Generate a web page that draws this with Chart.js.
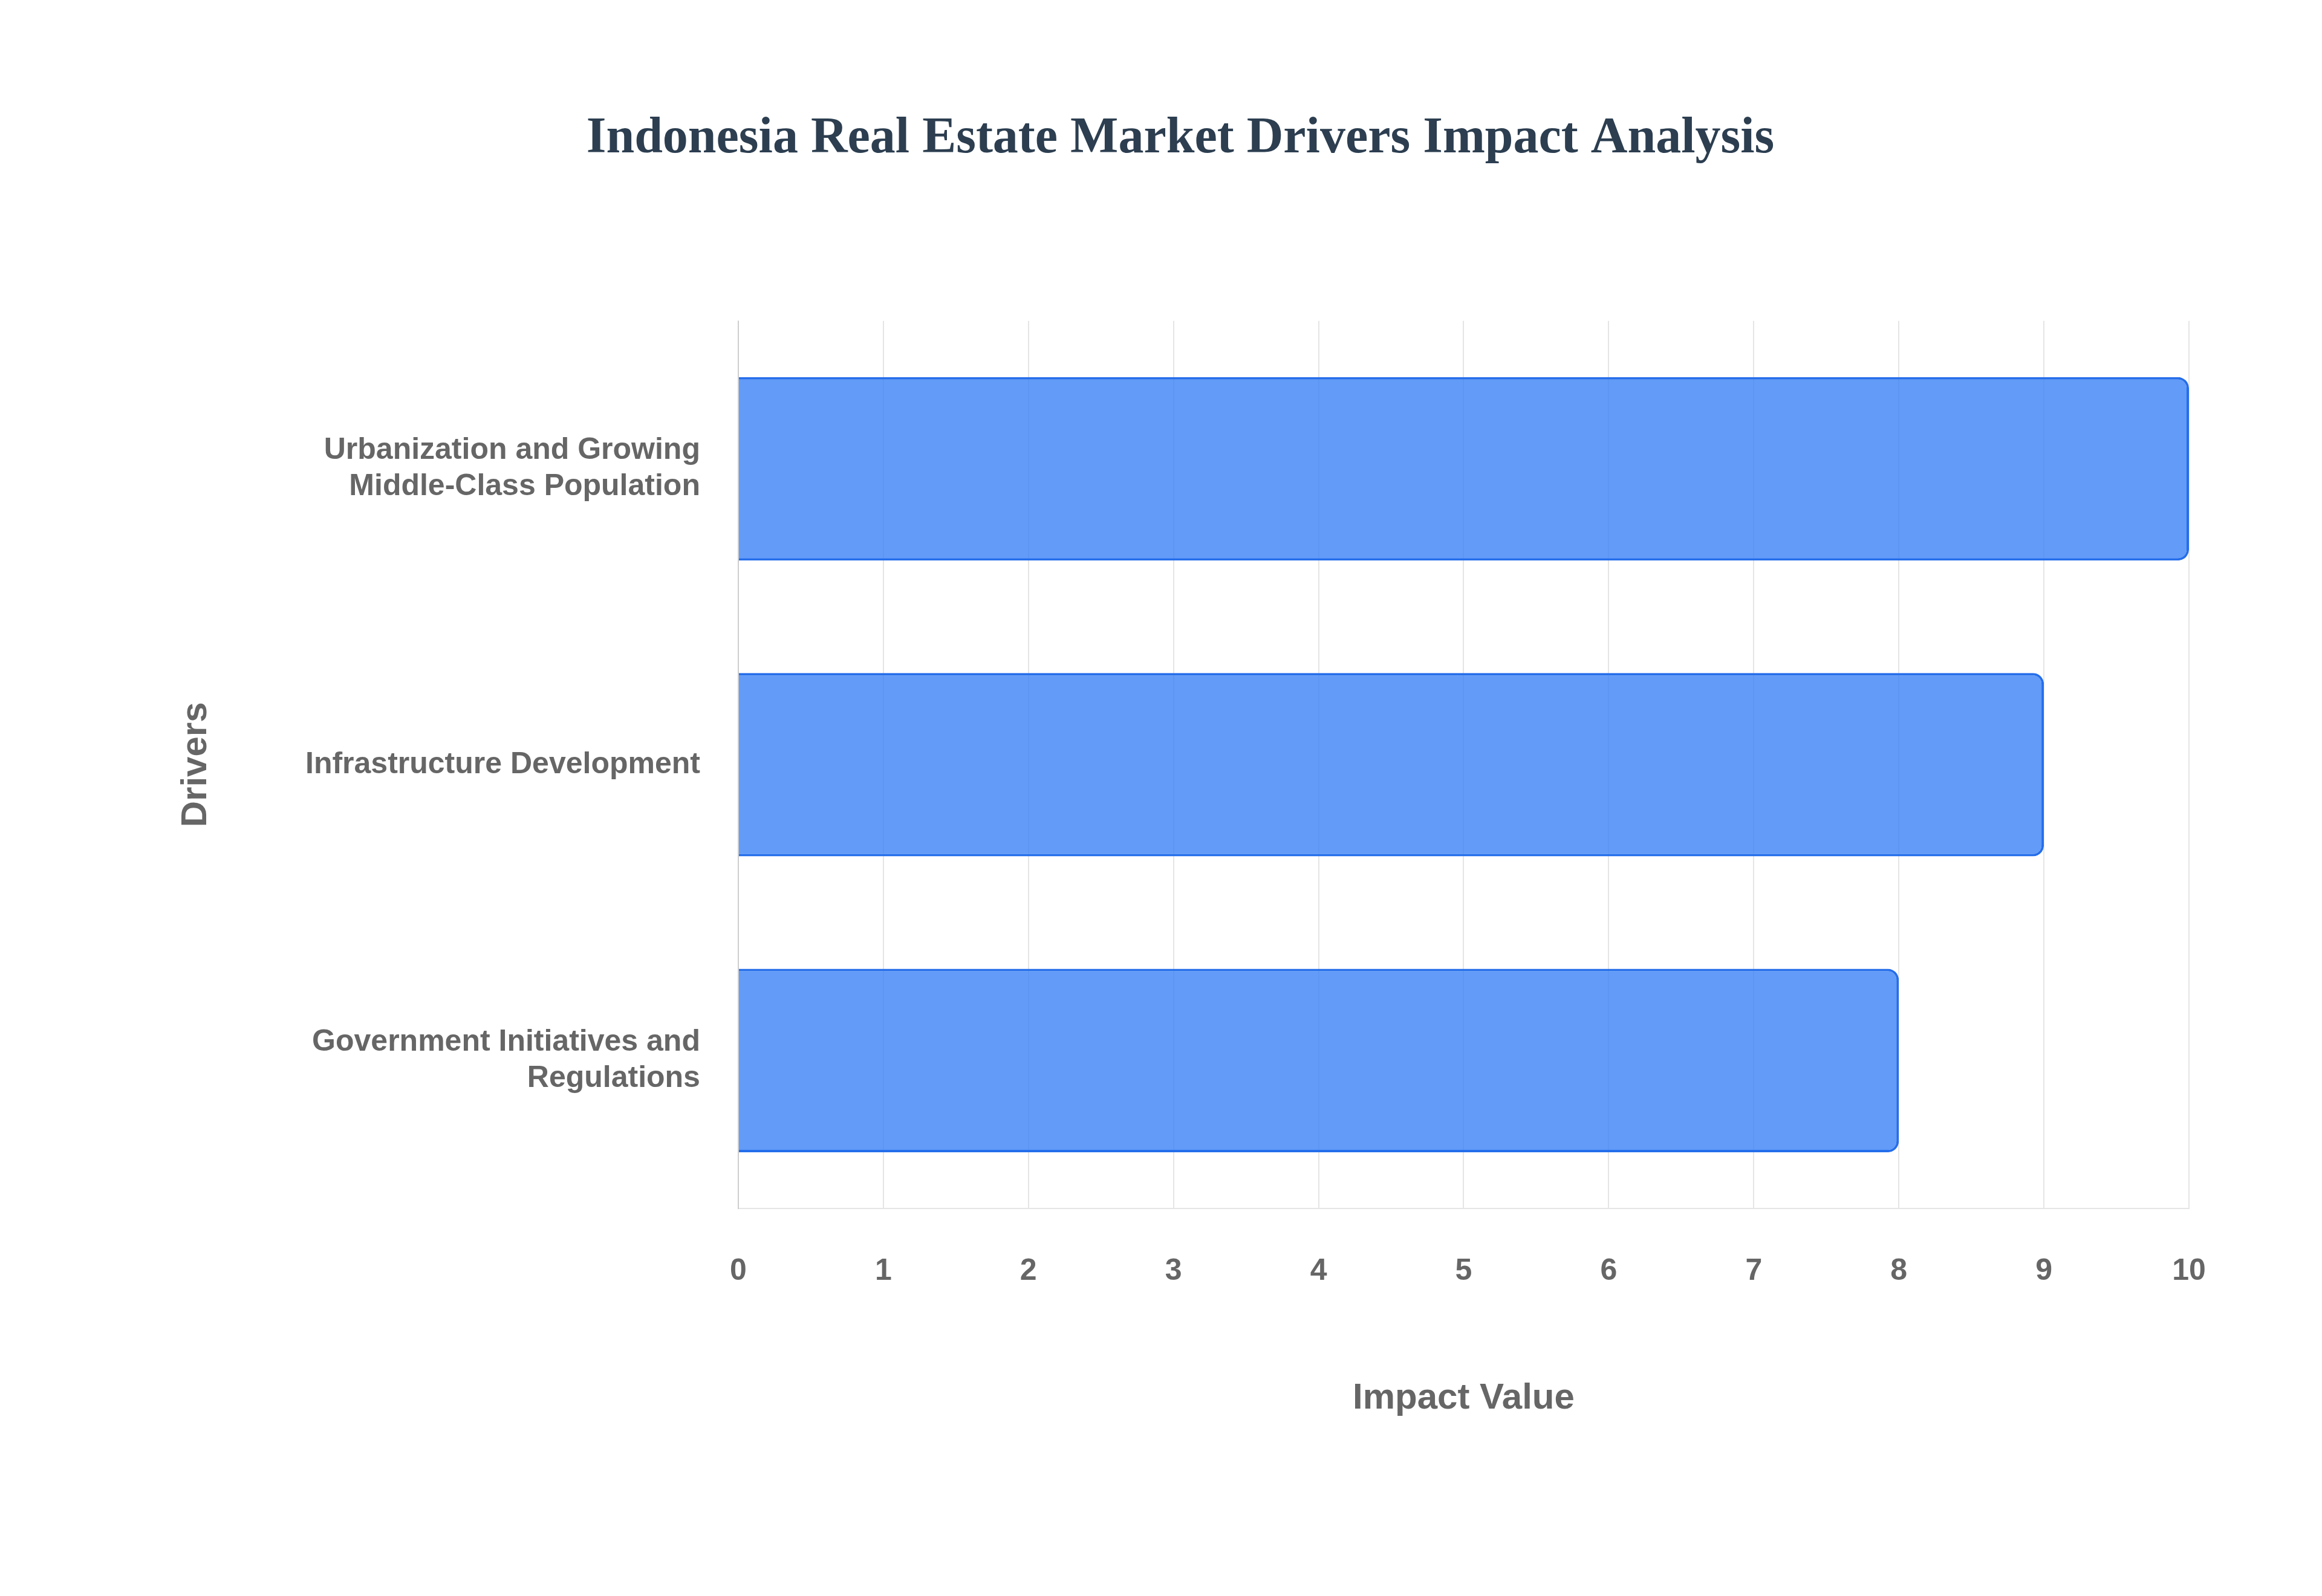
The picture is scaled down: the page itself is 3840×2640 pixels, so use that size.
<!DOCTYPE html>
<html>
<head>
<meta charset="utf-8">
<script src="https://cdn.jsdelivr.net/npm/chart.js@4"></script>
<style>
  html, body { margin: 0; padding: 0; background: #fff; }
  #wrap { width: 3840px; height: 2640px; }
</style>
</head>
<body>
<div id="wrap"><canvas id="barChart"></canvas></div>
<script>
// Datos del gráfico
const drivers = [
  ['Urbanization and Growing', 'Middle-Class Population'],
  'Infrastructure Development',
  ['Government Initiatives and', 'Regulations']
];
const impactValues = [10, 9, 8];
const xTicks = [0, 1, 2, 3, 4, 5, 6, 7, 8, 9, 10];

const labelFont = "'Liberation Sans', Arial, sans-serif";

const ctx = document.getElementById('barChart').getContext('2d');
const barChart = new Chart(ctx, {
  type: 'bar',
  data: {
    labels: drivers,
    datasets: [{
      label: 'Impact Value',
      data: impactValues,
      backgroundColor: 'rgba(59, 130, 246, 0.8)',
      borderColor: 'rgba(37, 110, 235, 1)',
      borderWidth: 4,
      borderRadius: 18,
      borderSkipped: 'start',
      barPercentage: 0.62,
      categoryPercentage: 1
    }]
  },
  options: {
    indexAxis: 'y',
    responsive: true,
    maintainAspectRatio: false,
    devicePixelRatio: 1,
    animation: false,
    layout: { padding: { left: 284, right: 220, top: 60, bottom: 287 } },
    plugins: {
      legend: { display: false },
      tooltip: { enabled: false },
      title: {
        display: true,
        text: 'Indonesia Real Estate Market Drivers Impact Analysis',
        color: '#2c3e50',
        font: { family: "'Liberation Serif', 'Times New Roman', serif", size: 84, weight: 'bold' },
        padding: { top: 120, bottom: 250 }
      }
    },
    scales: {
      x: {
        min: 0,
        max: 10,
        afterBuildTicks: axis => { axis.ticks = xTicks.map(v => ({ value: v })); },
        grid: { color: 'rgba(0,0,0,0.1)', lineWidth: 2, drawTicks: false },
        border: { color: 'rgba(0,0,0,0.1)', width: 2 },
        ticks: {
          color: '#666',
          padding: 74,
          font: { family: labelFont, size: 50, weight: 'bold' }
        },
        title: {
          display: true,
          text: 'Impact Value',
          color: '#666',
          padding: { top: 70 },
          font: { family: labelFont, size: 60, weight: 'bold' }
        }
      },
      y: {
        grid: { display: false },
        border: { color: 'rgba(0,0,0,0.1)', width: 2 },
        ticks: {
          color: '#666',
          padding: 55,
          font: { family: labelFont, size: 50, weight: 'bold' }
        },
        title: {
          display: true,
          text: 'Drivers',
          color: '#666',
          padding: { bottom: 90 },
          font: { family: labelFont, size: 60, weight: 'bold' }
        }
      }
    }
  }
});
</script>
</body>
</html>
